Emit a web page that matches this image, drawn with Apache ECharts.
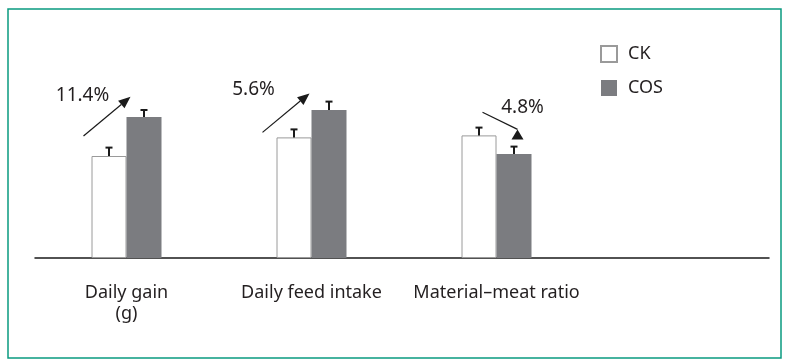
<!DOCTYPE html>
<html>
<head>
<meta charset="utf-8">
<script src="https://cdn.jsdelivr.net/npm/echarts@6/dist/echarts.min.js"></script>
<style>
html,body{margin:0;padding:0;background:#fff;}
#chart{width:792px;height:364px;}
</style>
</head>
<body>
<div id="chart"></div>
<script>
// ---- data ----
const categories = ['Daily gain\n(g)', 'Daily feed intake', 'Material\u2013meat ratio'];
const seriesNames = ['CK', 'COS'];
const ckValues = [51, 60.3, 61.3];
const cosValues = [70.5, 74, 52];
const ckErrors = [4.2, 4.0, 3.9];
const cosErrors = [3.5, 4.2, 3.7];
const changeLabels = ['11.4%', '5.6%', '4.8%'];
const arrowFromValues = [61, 62.8, 72.9];
const arrowToValues = [80.6, 82.3, 64.3];
const labelValues = [81.3, 84, 75];

// ---- layout / style (not data) ----
const FONT = 'Noto Sans';
const TEXT = '#231f20';
const BAR_W = 35;
// pixel offsets from category centre for annotation arrows
const arrowLayout = [
  {tail: -43, tip: 4, label: -44, head: 'along'},
  {tail: -49, tip: -2, label: -58, head: 'along'},
  {tail: -14, tip: 21, label: 26, head: 'up'}
];

const chart = echarts.init(document.getElementById('chart'), null, {renderer: 'canvas'});

function errorSeries(name, values, errors, offset) {
  return {
    type: 'custom',
    name: name + ' err',
    xAxisIndex: 0, yAxisIndex: 0,
    z: 5,
    data: values.map((v, i) => [i, v, errors[i]]),
    renderItem: function (params, api) {
      const c = api.coord([api.value(0), api.value(1)]);
      const t = api.coord([api.value(0), api.value(1) + api.value(2)]);
      const x = c[0] + offset;
      return {
        type: 'group',
        children: [
          {type: 'line', shape: {x1: x, y1: c[1], x2: x, y2: t[1]}, style: {stroke: '#1a1a1a', lineWidth: 2}},
          {type: 'line', shape: {x1: x - 3.5, y1: t[1], x2: x + 3.5, y2: t[1]}, style: {stroke: '#1a1a1a', lineWidth: 2}}
        ]
      };
    }
  };
}

const option = {
  animation: false,
  backgroundColor: '#fff',
  textStyle: {fontFamily: FONT},
  graphic: [{
    type: 'rect',
    shape: {x: 8, y: 9, width: 773, height: 349},
    style: {fill: 'none', stroke: '#0a9a80', lineWidth: 1.5},
    silent: true
  }],
  legend: {
    data: seriesNames,
    orient: 'vertical',
    left: 595, top: 40,
    itemWidth: 16, itemHeight: 16, itemGap: 16,
    icon: 'rect',
    textStyle: {fontFamily: FONT, fontSize: 18, color: TEXT, padding: [0, 0, 0, 6]}
  },
  grid: [
    {left: 34, width: 555, top: 58, bottom: 106},
    {left: 35, right: 23, top: 58, bottom: 106}
  ],
  xAxis: [
    {
      type: 'category', gridIndex: 0, data: categories,
      axisLine: {show: false}, axisTick: {show: false},
      axisLabel: {interval: 0, fontFamily: FONT, fontSize: 18, color: TEXT, margin: 24, lineHeight: 21}
    },
    {
      type: 'value', gridIndex: 1, min: 0, max: 1,
      axisLine: {show: true, onZero: false, lineStyle: {color: '#1a1a1a', width: 1.5}},
      axisTick: {show: false}, axisLabel: {show: false}, splitLine: {show: false}
    }
  ],
  yAxis: [
    {type: 'value', gridIndex: 0, min: 0, max: 100, show: false},
    {type: 'value', gridIndex: 1, min: 0, max: 100, show: false}
  ],
  series: [
    {
      type: 'bar', name: 'CK', data: ckValues, barWidth: BAR_W, barGap: '0%',
      xAxisIndex: 0, yAxisIndex: 0,
      itemStyle: {color: '#ffffff', borderColor: '#9a9a9a', borderWidth: 1}
    },
    {
      type: 'bar', name: 'COS', data: cosValues, barWidth: BAR_W, barGap: '0%',
      xAxisIndex: 0, yAxisIndex: 0,
      itemStyle: {color: '#7b7c80'}
    },
    errorSeries('CK', ckValues, ckErrors, -BAR_W / 2),
    errorSeries('COS', cosValues, cosErrors, BAR_W / 2),
    {
      type: 'custom', name: 'change',
      xAxisIndex: 0, yAxisIndex: 0, z: 6,
      data: changeLabels.map((l, i) => [i, arrowFromValues[i], arrowToValues[i], labelValues[i]]),
      renderItem: function (params, api) {
        const i = api.value(0);
        const L = arrowLayout[i];
        const cx = api.coord([i, 0])[0];
        const y1 = api.coord([i, api.value(1)])[1];
        const y2 = api.coord([i, api.value(2)])[1];
        const ly = api.coord([i, api.value(3)])[1];
        const x1 = cx + L.tail, x2 = cx + L.tip;
        let headPts, lineEnd;
        if (L.head === 'along') {
          const dx = x2 - x1, dy = y2 - y1, len = Math.sqrt(dx * dx + dy * dy);
          const ux = dx / len, uy = dy / len;
          const hl = 12, hw = 5;
          const bx = x2 - ux * hl, by = y2 - uy * hl;
          headPts = [[x2, y2], [bx - uy * hw, by + ux * hw], [bx + uy * hw, by - ux * hw]];
          lineEnd = [bx, by];
        } else {
          headPts = [[x2, y2], [x2 - 6, y2 + 10], [x2 + 6, y2 + 10]];
          lineEnd = [x2, y2];
        }
        return {
          type: 'group',
          children: [
            {type: 'line', shape: {x1: x1, y1: y1, x2: lineEnd[0], y2: lineEnd[1]}, style: {stroke: '#1a1a1a', lineWidth: 1.2}},
            {type: 'polygon', shape: {points: headPts}, style: {fill: '#1a1a1a'}},
            {type: 'text', x: cx + L.label, y: ly, style: {
              text: changeLabels[i], fill: TEXT, fontSize: 19, fontFamily: FONT,
              align: 'center', verticalAlign: 'middle'
            }}
          ]
        };
      }
    }
  ]
};
chart.setOption(option);
</script>
</body>
</html>
